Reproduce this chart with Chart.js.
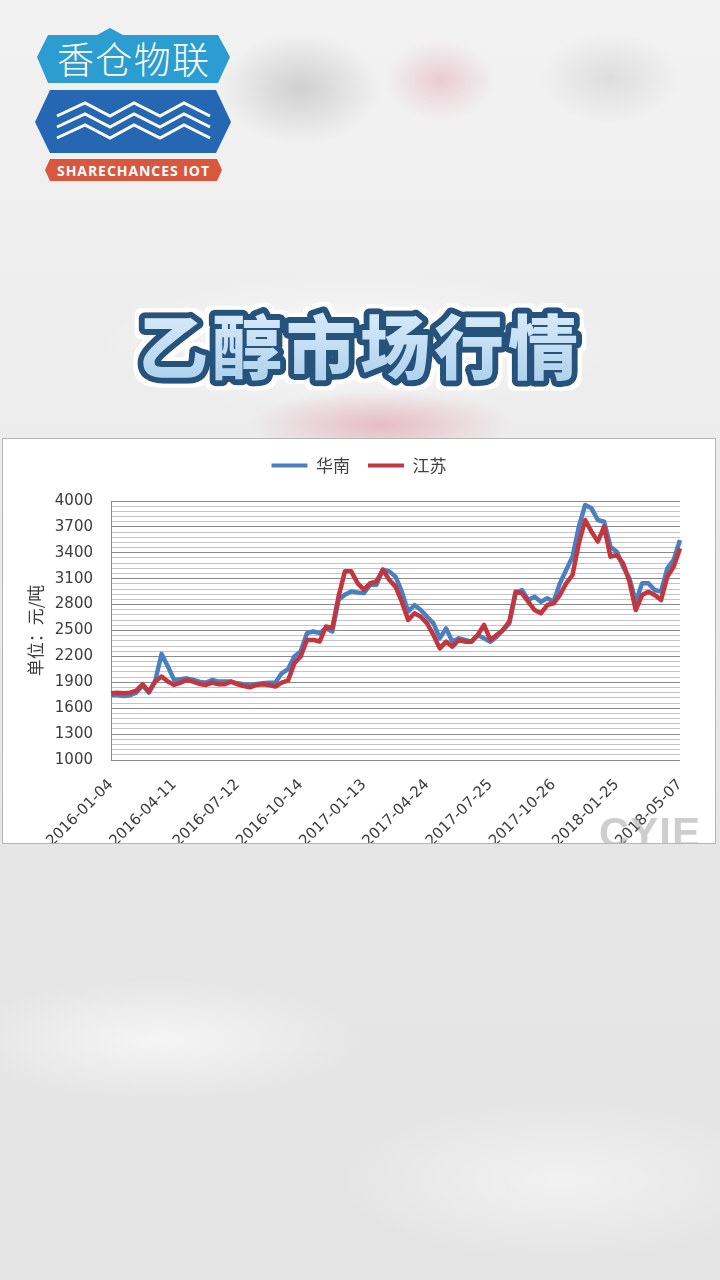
<!DOCTYPE html>
<html>
<head>
<meta charset="utf-8">
<script src="https://cdn.jsdelivr.net/npm/chart.js@4.4.1/dist/chart.umd.min.js"></script>
<style>
html, body { margin: 0; padding: 0; }
body {
    width: 720px; height: 1280px; position: relative; overflow: hidden;
    background: #e7e7e7;
    font-family: "Noto Sans CJK SC", sans-serif;
}
#bg {
    position: absolute; left: 0; top: 0; width: 720px; height: 1280px;
    background:
        radial-gradient(ellipse 80px 55px at 300px 88px, rgba(190,190,190,0.65), rgba(190,190,190,0)),
        radial-gradient(ellipse 55px 40px at 440px 80px, rgba(228,185,195,0.65), rgba(228,185,195,0)),
        radial-gradient(ellipse 70px 45px at 610px 78px, rgba(205,205,205,0.55), rgba(205,205,205,0)),
        radial-gradient(ellipse 130px 35px at 380px 425px, rgba(228,172,184,0.75), rgba(228,172,184,0)),
        radial-gradient(ellipse 260px 70px at 360px 345px, rgba(250,250,250,0.9), rgba(250,250,250,0)),
        radial-gradient(ellipse 200px 60px at 160px 1040px, rgba(246,246,246,0.9), rgba(246,246,246,0)),
        radial-gradient(ellipse 220px 80px at 560px 1180px, rgba(244,244,244,0.8), rgba(244,244,244,0)),
        linear-gradient(#f2f2f2 0px, #ececec 440px, #e6e6e6 860px, #e4e4e4 1280px);
}
#logo { position: absolute; left: 0; top: 0; }
#title { position: absolute; left: 0; top: 280px; }
#box {
    position: absolute; left: 2px; top: 438px; width: 712px; height: 404px;
    border: 1px solid #b5b5b5; background: #ffffff; overflow: hidden;
}
#mark {
    position: absolute; left: 596px; top: 370px;
    font: bold 42px "Liberation Sans", sans-serif; color: rgba(165,165,165,0.55);
    letter-spacing: 1px;
}
</style>
</head>
<body>
<div id="bg"></div>

<svg id="logo" width="260" height="200" viewBox="0 0 260 200">
    <polygon points="37,57 48,35 97,35 110,28 123,35 218,35 230,57 218,83 48,83" fill="#2b9dd0"/>
    <text x="133" y="74" text-anchor="middle" font-family="Noto Sans CJK SC" font-weight="300" font-size="37" fill="#ffffff" textLength="152">香仓物联</text>
    <polygon points="35,122 50,90 216,90 231,122 216,153 50,153" fill="#2567b2"/>
    <g fill="none" stroke="#ffffff" stroke-width="3">
        <polyline points="57,116 85,103 110,116 134,103 160,116 184,103 210,116"/>
        <polyline points="57,127 85,114 110,127 134,114 160,127 184,114 210,127"/>
        <polyline points="57,138 85,125 110,138 134,125 160,138 184,125 210,138"/>
    </g>
    <polygon points="45,170 50,159 217,159 222,170 217,181 50,181" fill="#d9573f"/>
    <text x="133" y="176" text-anchor="middle" font-family="Open Sans" font-weight="700" font-size="14" fill="#ffffff" textLength="152">SHARECHANCES IOT</text>
</svg>

<svg id="title" width="720" height="120" viewBox="0 0 720 120">
    <defs>
        <linearGradient id="tg" x1="0" y1="0" x2="0" y2="1">
            <stop offset="0" stop-color="#e2f1fc"/>
            <stop offset="1" stop-color="#a7cdeb"/>
        </linearGradient>
        <filter id="glow" x="-10%" y="-30%" width="120%" height="160%">
            <feMorphology in="SourceAlpha" operator="dilate" radius="4" result="d"/>
            <feFlood flood-color="#ffffff"/>
            <feComposite in2="d" operator="in" result="w"/>
            <feMerge><feMergeNode in="w"/><feMergeNode in="SourceGraphic"/></feMerge>
        </filter>
    </defs>
    <text x="360" y="94" text-anchor="middle" font-family="Noto Sans CJK SC" font-weight="900" font-size="70"
          letter-spacing="4" fill="url(#tg)" stroke="#28527c" stroke-width="12" stroke-linejoin="round"
          paint-order="stroke" filter="url(#glow)">乙醇市场行情</text>
</svg>

<div id="box">
    <canvas id="myChart" width="712" height="441"></canvas>
    <div id="mark">CYIE</div>
</div>

<script>
const dates = ["2016-01-04", "2016-04-11", "2016-07-12", "2016-10-14", "2017-01-13",
               "2017-04-24", "2017-07-25", "2017-10-26", "2018-01-25", "2018-05-07"];
const yLabels = [1000, 1300, 1600, 1900, 2200, 2500, 2800, 3100, 3400, 3700, 4000];

// 华南
const huanan = [1753, 1753, 1741, 1750, 1780, 1865, 1780, 1920, 2229, 2082,
                1927, 1935, 1946, 1927, 1908, 1896, 1927, 1908, 1908, 1908,
                1888, 1877, 1869, 1881, 1888, 1896, 1896, 2004, 2051, 2198,
                2256, 2469, 2488, 2469, 2527, 2488, 2856, 2914, 2953, 2941,
                2933, 3030, 3030, 3204, 3185, 3124, 2950, 2718, 2795, 2737,
                2660, 2583, 2409, 2525, 2371, 2409, 2390, 2371, 2448, 2409,
                2371, 2429, 2506, 2583, 2930, 2969, 2853, 2892, 2834, 2873,
                2834, 3046, 3201, 3355, 3703, 3954, 3915, 3780, 3760, 3471,
                3413, 3239, 3104, 2834, 3046, 3046, 2969, 2950, 3220, 3317,
                3548];
// 江苏
const jiangsu = [1772, 1780, 1772, 1780, 1803, 1877, 1792, 1908, 1966, 1908,
                 1869, 1896, 1927, 1908, 1881, 1869, 1896, 1877, 1877, 1908,
                 1877, 1857, 1842, 1869, 1877, 1869, 1850, 1896, 1919, 2120,
                 2198, 2391, 2391, 2372, 2546, 2527, 2895, 3185, 3185, 3049,
                 2972, 3049, 3069, 3204, 3088, 3008, 2834, 2622, 2699, 2660,
                 2583, 2448, 2293, 2371, 2313, 2390, 2371, 2371, 2448, 2564,
                 2390, 2448, 2506, 2602, 2950, 2930, 2834, 2737, 2699, 2795,
                 2815, 2911, 3046, 3143, 3510, 3780, 3645, 3529, 3703, 3355,
                 3374, 3278, 3066, 2737, 2911, 2950, 2911, 2853, 3124, 3239,
                 3452];

const blue = "#4a80c0";
const red = "#c1363f";
const cjk = '"Noto Sans CJK SC", sans-serif';
const every = (huanan.length - 1) / (dates.length - 1);

Chart.defaults.font.family = '"DejaVu Sans", sans-serif';

// legend sits higher above the plot than chart.js leaves room for
const legendGap = {
    id: "legendGap",
    afterInit(chart) {
        const fit = chart.legend.fit;
        chart.legend.fit = function () { fit.call(this); this.height += 17; };
    }
};

const baseLabels = Chart.defaults.plugins.legend.labels.generateLabels;

new Chart("myChart", {
    type: "line",
    data: {
        labels: huanan.map((_, i) => i),
        datasets: [{
            label: "华南",
            data: huanan,
            borderColor: blue,
            backgroundColor: blue,
            borderWidth: 4.5,
            pointRadius: 0,
            borderJoinStyle: "round",
            order: 1
        },
        {
            label: "江苏",
            data: jiangsu,
            borderColor: red,
            backgroundColor: red,
            borderWidth: 4.5,
            pointRadius: 0,
            borderJoinStyle: "round",
            order: 0
        }]
    },
    options: {
        responsive: false,
        animation: false,
        events: [],
        layout: { padding: 0 },
        plugins: {
            tooltip: { enabled: false },
            legend: {
                labels: {
                    boxWidth: 36,
                    boxHeight: 4,
                    padding: 18,
                    color: "#404040",
                    font: { family: cjk, size: 17 },
                    sort: (a, b) => a.datasetIndex - b.datasetIndex,
                    generateLabels: (chart) => baseLabels(chart).map(l => {
                        l.fillStyle = l.strokeStyle;
                        l.lineWidth = 0;
                        return l;
                    })
                }
            }
        },
        scales: {
            x: {
                offset: false,
                grid: { display: false, drawTicks: false },
                border: { display: false },
                afterFit: (s) => { s.height = 120; },
                ticks: {
                    autoSkip: false,
                    minRotation: 45,
                    maxRotation: 45,
                    padding: 16,
                    color: "#3c3c3c",
                    font: { size: 15 },
                    callback: (v, i) => i % every === 0 ? dates[i / every] : null
                }
            },
            y: {
                min: yLabels[0],
                max: yLabels[yLabels.length - 1],
                afterFit: (s) => { s.width = 108; },
                afterBuildTicks: (s) => {
                    const t = [];
                    yLabels.forEach((v, k) => {
                        t.push({ value: v });
                        if (k < yLabels.length - 1) {
                            const step = (yLabels[k + 1] - v) / 5;
                            for (let m = 1; m < 5; m++) t.push({ value: v + m * step });
                        }
                    });
                    s.ticks = t;
                },
                grid: {
                    drawTicks: false,
                    lineWidth: 1,
                    color: (c) => yLabels.includes(c.tick.value) ? "#8a8a8a" : "#c4c4c4"
                },
                border: { display: true, color: "#8a8a8a", width: 1 },
                ticks: {
                    autoSkip: false,
                    padding: 18,
                    color: "#3c3c3c",
                    font: { size: 15 },
                    callback: (v) => yLabels.includes(v) ? v : ""
                },
                title: {
                    display: true,
                    text: "单位：元/吨",
                    color: "#3c3c3c",
                    font: { family: cjk, size: 17 },
                    padding: { top: 22, bottom: 0 }
                }
            },
            // empty strip on the right so the legend stays centred on the whole box
            side: {
                position: "right",
                grid: { display: false, drawTicks: false },
                border: { display: false },
                ticks: { display: false },
                afterFit: (s) => { s.width = 35; }
            }
        }
    },
    plugins: [legendGap]
});
</script>
</body>
</html>
